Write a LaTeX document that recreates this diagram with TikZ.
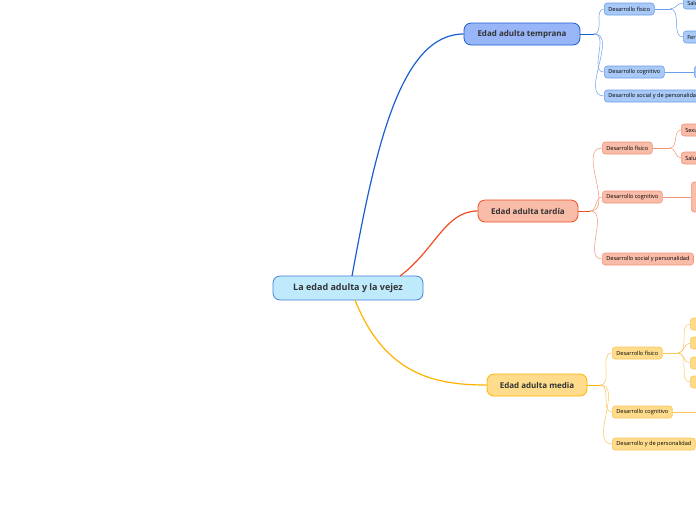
\documentclass[tikz,border=0pt]{standalone}
\usepackage{fontspec}
\setmainfont{Open Sans}
\begin{document}
\begin{tikzpicture}[x=1pt,y=-1pt,
 box/.style={rounded corners=3pt,inner xsep=4pt,inner ysep=0pt,minimum height=12pt,font=\fontsize{5.6}{6.5}\selectfont,anchor=west},
 bsm/.style={box,draw=bB,fill=bF,line width=0.6pt},
 rsm/.style={box,draw=rB,fill=rF,line width=0.6pt},
 ysm/.style={box,draw=yB,fill=yF,line width=0.6pt},
 main/.style={rounded corners=7pt,minimum height=22pt,font=\fontsize{8}{9}\selectfont\bfseries,text=black!80,line width=0.8pt},
 bl/.style={draw=bB,line width=0.5pt},
 rl/.style={draw=rB,line width=0.5pt},
 yl/.style={draw=yB,line width=0.5pt}]
\definecolor{bB}{HTML}{6A9EEA}\definecolor{bF}{HTML}{A9C9F7}\definecolor{bM}{HTML}{1A5FD0}
\definecolor{rB}{HTML}{F29478}\definecolor{rF}{HTML}{F9BCA8}\definecolor{rM}{HTML}{F04E23}
\definecolor{yB}{HTML}{FDC55A}\definecolor{yF}{HTML}{FEDC8C}\definecolor{yM}{HTML}{FFB300}
\path[clip] (0,0) rectangle (696,520);
\fill[white] (0,0) rectangle (696,520);
\node[main,fill=cyan!25,draw=bM!80,minimum width=150pt,minimum height=24pt,font=\fontsize{9}{10}\selectfont\bfseries] (root) at (348,288) {La edad adulta y la vejez};
\node[main,draw=bM,fill=bF!90!blue,minimum width=116pt] (B) at (522,34) {Edad adulta temprana};
\node[main,draw=rM,fill=rF,minimum width=100pt] (R) at (528,211) {Edad adulta tardía};
\node[main,draw=yM,fill=yF,minimum width=100pt] (Y) at (537,385) {Edad adulta media};
\draw[bM,line width=1.2pt] (352,276) .. controls (375,150) and (400,34) .. (B.west);
\draw[rM,line width=1.2pt] (400,276) .. controls (435,250) and (445,211) .. (R.west);
\draw[yM,line width=1.2pt] (355,300) .. controls (385,375) and (435,385) .. (Y.west);
% blue
\node[bsm] (b1) at (604,9) {Desarrollo físico};
\node[bsm] (b2) at (604,72) {Desarrollo cognitivo};
\node[bsm] (b3) at (604,96) {Desarrollo social y de personalidad};
\node[bsm] (b11) at (683,3) {Salud};
\node[bsm] (b12) at (683,37) {Fertilidad};
\node[bsm,minimum width=30pt] (b21) at (694,72) {};
\coordinate (bj) at (594,34);
\draw[bM,line width=1pt] (B.east) -- (bj);
\foreach \c in {b1,b2,b3} \draw[bl] (bj) to[out=0,in=180] (\c.west);
\coordinate (bj1) at (670,9);
\draw[bl] (b1.east) -- (bj1);
\foreach \c in {b11,b12} \draw[bl] (bj1) to[out=0,in=180] (\c.west);
\draw[bl] (b2.east) -- (b21.west);
% red
\node[rsm] (r1) at (602,148) {Desarrollo físico};
\node[rsm] (r2) at (602,197) {Desarrollo cognitivo};
\node[rsm] (r3) at (602,259) {Desarrollo social y personalidad};
\node[rsm] (r11) at (681,130) {Sexualidad};
\node[rsm] (r12) at (681,158) {Salud};
\node[rsm,minimum width=40pt,minimum height=30pt] (r21) at (691,197) {};
\coordinate (rj) at (590,211);
\draw[rM,line width=1pt] (R.east) -- (rj);
\foreach \c in {r1,r2,r3} \draw[rl] (rj) to[out=0,in=180] (\c.west);
\coordinate (rj1) at (670,148);
\draw[rl] (r1.east) -- (rj1);
\foreach \c in {r11,r12} \draw[rl] (rj1) to[out=0,in=180] (\c.west);
\draw[rl] (r2.east) -- (r21.west);
% yellow
\node[ysm] (y1) at (612,353) {Desarrollo físico};
\node[ysm] (y2) at (612,412) {Desarrollo cognitivo};
\node[ysm] (y3) at (612,444) {Desarrollo y de personalidad};
\foreach \n/\yy in {y11/324,y12/343,y13/363,y14/382}
  \node[ysm,minimum width=30pt] (\n) at (690,\yy) {};
\coordinate (yj) at (600,385);
\draw[yM,line width=1pt] (Y.east) -- (yj);
\foreach \c in {y1,y2,y3} \draw[yl] (yj) to[out=0,in=180] (\c.west);
\coordinate (yj1) at (678,353);
\draw[yl] (y1.east) -- (yj1);
\foreach \c in {y11,y12,y13,y14} \draw[yl] (yj1) to[out=0,in=180] (\c.west);
\coordinate (y2e) at (700,412);
\draw[yl] (y2.east) -- (y2e);
\end{tikzpicture}
\end{document}
